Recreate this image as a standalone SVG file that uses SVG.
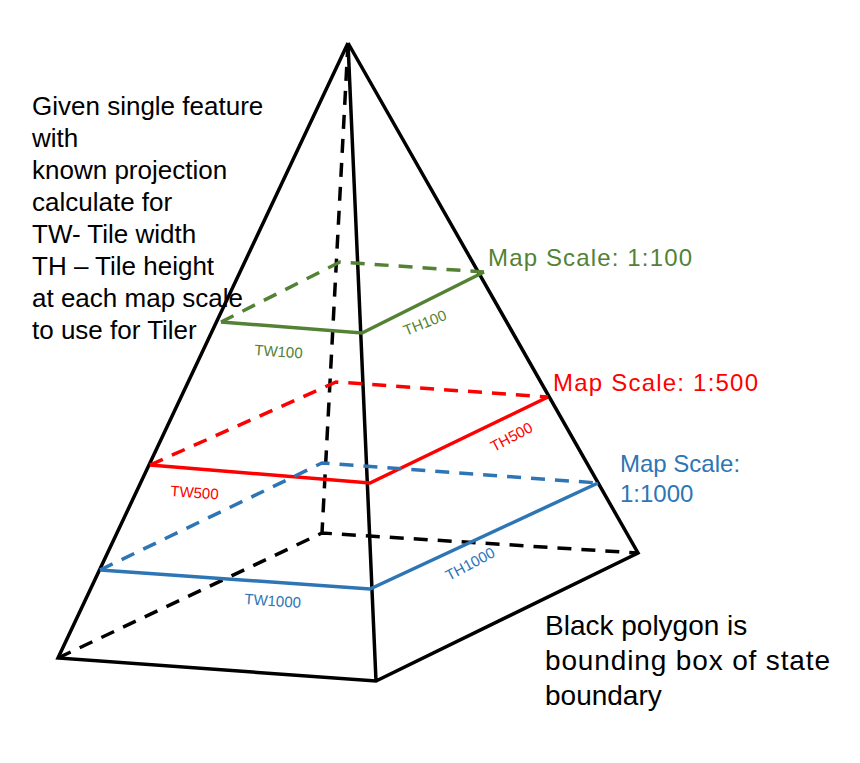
<svg xmlns="http://www.w3.org/2000/svg" width="860" height="763" viewBox="0 0 860 763">
<style>
.k{stroke:#000;stroke-width:3.5;fill:none}
.g{stroke:#548235;stroke-width:3.5;fill:none}
.r{stroke:#ff0000;stroke-width:3.5;fill:none}
.b{stroke:#2e75b6;stroke-width:3.5;fill:none}
.d{stroke-dasharray:14,10}
text{font-family:"Liberation Sans",Arial,sans-serif}
.t{font-size:26px;fill:#000}
.c{font-size:28px;fill:#000}
.s{font-size:15px}
</style>
<rect width="860" height="763" fill="#fff"/>
<g id="connectors">
<path class="k" d="M348,43 L58,658 L376,681 L638,553 L348,43 M348,43 L376,681"/>
<path class="k d" d="M348,43 L322,533 M58,658 L322,533 L638,553"/>
<path class="g" d="M221,322 L362,333 L484,272"/>
<path class="g d" d="M221,322 L340,262 L484,272"/>
<path class="r" d="M150,465 L370,483 L548,397"/>
<path class="r d" d="M150,465 L336,382 L548,397"/>
<path class="b" d="M100,570 L370,589 L598,483"/>
<path class="b d" d="M100,570 L322,463 L598,483"/>
</g>
<g id="note"><text class="t"><tspan x="32" y="115">Given single feature</tspan><tspan x="32" y="147">with</tspan><tspan x="32" y="179">known projection</tspan><tspan x="32" y="211">calculate for</tspan><tspan x="32" y="243">TW- Tile width</tspan><tspan x="32" y="275">TH – Tile height</tspan><tspan x="32" y="307">at each map scale</tspan><tspan x="32" y="339">to use for Tiler</tspan></text></g>
<g id="scale100"><text x="488" y="266" font-size="24" fill="#548235" textLength="204">Map Scale: 1:100</text>
<text class="s" x="254" y="355" fill="#548235" transform="rotate(4 254 355)">TW100</text>
<text class="s" x="406" y="336" fill="#548235" transform="rotate(-22 406 336)">TH100</text></g>
<g id="scale500"><text x="553" y="391" font-size="24" fill="#ff0000" textLength="205">Map Scale: 1:500</text>
<text class="s" x="170" y="496" fill="#ff0000" transform="rotate(4 170 496)">TW500</text>
<text class="s" x="494" y="452" fill="#ff0000" transform="rotate(-28 494 452)">TH500</text></g>
<g id="scale1000"><text font-size="24" fill="#2e75b6"><tspan x="620" y="472">Map Scale:</tspan><tspan x="620" y="502">1:1000</tspan></text>
<text class="s" x="244" y="604" fill="#2e75b6" transform="rotate(4 244 604)">TW1000</text>
<text class="s" x="449" y="581" fill="#2e75b6" transform="rotate(-28 449 581)">TH1000</text></g>
<g id="caption"><text class="c"><tspan x="545" y="635">Black polygon is</tspan><tspan x="545" y="670" textLength="285">bounding box of state</tspan><tspan x="545" y="705">boundary</tspan></text></g>
</svg>
